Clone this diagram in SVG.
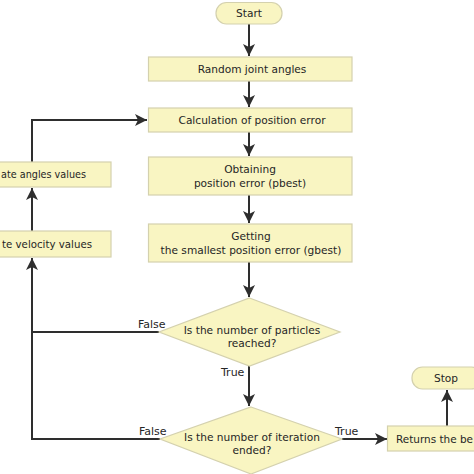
<svg xmlns="http://www.w3.org/2000/svg" width="474" height="474" viewBox="0 0 474 474">
<style>
.box{fill:#f9f5c2;stroke:#d4d1ae;stroke-width:1.2}
.t{font-family:"DejaVu Sans",sans-serif;font-size:10.6px;fill:#262626;text-anchor:middle}
.l{font-family:"DejaVu Sans",sans-serif;font-size:11px;fill:#262626}
.s{font-family:"DejaVu Sans",sans-serif;font-size:10.6px;fill:#262626}
.c{fill:none;stroke:#2e2e2e;stroke-width:2}
</style>
<defs>
<marker id="ah" viewBox="0 0 12 12" refX="12" refY="6" markerWidth="12" markerHeight="12" markerUnits="userSpaceOnUse" orient="auto">
<path d="M0,0 L12,6 L0,12 L3,6 Z" fill="#2e2e2e"/>
</marker>
</defs>
<rect width="474" height="474" fill="#ffffff"/>
<g id="connectors">
<path class="c" d="M249,24 V56" marker-end="url(#ah)"/>
<path class="c" d="M249,81 V107" marker-end="url(#ah)"/>
<path class="c" d="M249,132 V156" marker-end="url(#ah)"/>
<path class="c" d="M249,195 V223" marker-end="url(#ah)"/>
<path class="c" d="M249,262 V297" marker-end="url(#ah)"/>
<path class="c" d="M249,366 V406" marker-end="url(#ah)"/>
<path class="c" d="M342,439 H387" marker-end="url(#ah)"/>
<path class="c" d="M447,426 V390" marker-end="url(#ah)"/>
<path class="c" d="M159,332 H32"/>
<path class="c" d="M160,439 H32 V258" marker-end="url(#ah)"/>
<path class="c" d="M32,231 V188" marker-end="url(#ah)"/>
<path class="c" d="M32,162 V120 H147" marker-end="url(#ah)"/>
</g>
<g id="start">
<rect class="box" x="216" y="2.5" width="66" height="21.5" rx="10.5"/>
<text class="t" x="249" y="17">Start</text>
</g>
<g id="random">
<rect class="box" x="148.5" y="57" width="203.5" height="24"/>
<text class="t" x="252" y="73">Random joint angles</text>
</g>
<g id="calc">
<rect class="box" x="148.5" y="108" width="203.5" height="24"/>
<text class="t" x="252" y="124">Calculation of position error</text>
</g>
<g id="pbest">
<rect class="box" x="148.5" y="157" width="203.5" height="38"/>
<text class="t" x="250" y="173">Obtaining</text>
<text class="t" x="250" y="187">position error (pbest)</text>
</g>
<g id="gbest">
<rect class="box" x="148.5" y="224" width="203.5" height="38"/>
<text class="t" x="251" y="240">Getting</text>
<text class="t" x="251" y="254">the smallest position error (gbest)</text>
</g>
<g id="particles">
<polygon class="box" points="249.5,298 340,332 249.5,366 159,332"/>
<text class="t" x="252" y="334">Is the number of particles</text>
<text class="t" x="252" y="347">reached?</text>
</g>
<g id="iteration">
<polygon class="box" points="251,407 342,439 251,474 160,439"/>
<text class="t" x="252" y="441">Is the number of iteration</text>
<text class="t" x="252" y="454">ended?</text>
</g>
<g id="returns">
<rect class="box" x="387.5" y="426" width="100" height="25"/>
<text class="s" x="396" y="443" textLength="77" lengthAdjust="spacingAndGlyphs">Returns the be</text>
</g>
<g id="stop">
<rect class="box" x="412" y="367" width="70" height="22" rx="10.5"/>
<text class="t" x="446" y="382">Stop</text>
</g>
<g id="angles">
<rect class="box" x="-10" y="162" width="121" height="25"/>
<text class="s" x="1" y="178" textLength="85" lengthAdjust="spacingAndGlyphs">ate angles values</text>
</g>
<g id="velocity">
<rect class="box" x="-10" y="231" width="121" height="26"/>
<text class="s" x="2" y="248" textLength="90" lengthAdjust="spacingAndGlyphs">te velocity values</text>
</g>
<text class="l" x="138" y="328">False</text>
<text class="l" x="221" y="376">True</text>
<text class="l" x="139" y="435">False</text>
<text class="l" x="335" y="435">True</text>
</svg>
